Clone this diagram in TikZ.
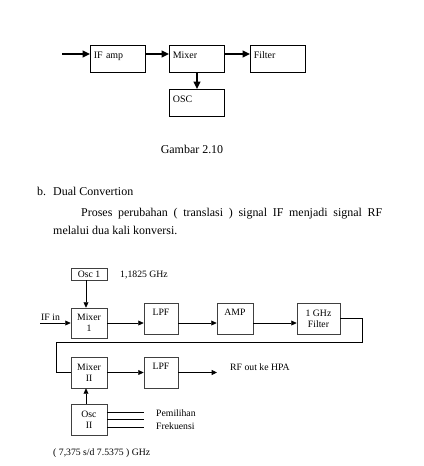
\documentclass[tikz,border=0pt]{standalone}
\usepackage{fontspec}
\setmainfont{Liberation Serif}
\usetikzlibrary{arrows.meta}
\newcommand{\bodyfont}{\fontsize{10.2}{12}\selectfont}
\newcommand{\blkfont}{\fontsize{8.3}{9.6}\selectfont}
\begin{document}
\begin{tikzpicture}[
  x=0.03cm, y=-0.03cm,
  blk/.style={draw,line width=0.8pt,minimum width=1.65cm,minimum height=0.81cm,
    text width=1.45cm,text height=0.3cm,text depth=0.33cm,inner sep=0.09cm,
    align=left,font=\fontsize{8.5}{10}\selectfont},
  sblk/.style={draw=black!75,line width=0.7pt,minimum height=0.93cm,
    inner sep=0.06cm,align=center,font=\blkfont},
  topt/.style={text height=0.3cm,text depth=0.51cm},
  txt/.style={inner sep=0pt,font=\bodyfont},
  stxt/.style={inner sep=0pt,font=\blkfont},
  bigarr/.style={line width=1.6pt,-{Triangle[length=2.2mm,width=2mm]}},
  arr/.style={line width=0.6pt,-{Triangle[length=1.6mm,width=1.5mm]}},
  wire/.style={line width=0.6pt}
]
  \useasboundingbox (0,0) rectangle (424,466);

  % single conversion
  \coordinate (in) at (62,54);
  \node[blk] (ifamp)  at (118,58.5) {IF amp};
  \node[blk] (mixer)  at (197,58.5) {Mixer};
  \node[blk] (filter) at (278,58.5) {Filter};
  \node[blk,minimum height=0.78cm] (osc) at (197,103) {OSC};

  \draw[bigarr] (in) -- (in -| ifamp.west);
  \draw[bigarr] (in -| ifamp.east) -- (in -| mixer.west);
  \draw[bigarr] (in -| mixer.east) -- (in -| filter.west);
  \draw[bigarr] (mixer.south) -- (osc.north);

  \node[txt] (cap) at (192,149) {Gambar 2.10};
  \node[txt,anchor=base west] (item) at (37,195) {b.};
  \node[txt,anchor=base west] (head) at (53,195) {Dual Convertion};
  \node[txt,anchor=base west] (par1) at (81,216)
    {\makebox[301\dimexpr0.03cm\relax][s]{Proses perubahan ( translasi ) signal IF menjadi signal RF}};
  \node[txt,anchor=base west] (par2) at (53,234) {melalui dua kali konversi.};

  % dual conversion
  \node[sblk,minimum width=1.08cm,minimum height=0.36cm,inner sep=0.02cm] (osc1) at (89,274) {Osc 1};
  \node[stxt,anchor=west] (f1) at (120,275) {1,1825 GHz};
  \node[sblk,minimum width=1.08cm,minimum height=0.9cm] (mix1) at (89,323) {Mixer\\1};
  \node[sblk,topt,minimum width=1.02cm] (lpf1) at (161,318.5) {LPF};
  \node[sblk,topt,minimum width=1.08cm] (amp) at (235,318.5) {AMP};
  \node[sblk,minimum width=1.29cm] (ghz) at (318.5,318.5) {1 GHz\\Filter};
  \node[sblk,minimum width=1.08cm] (mix2) at (89,372.5) {Mixer\\II};
  \node[sblk,topt,minimum width=1.02cm] (lpf2) at (161,372.5) {LPF};
  \node[sblk,minimum width=1.08cm] (osc2) at (89,419.5) {Osc\\II};

  \coordinate (ifin) at (40,323);
  \coordinate (c1) at (362,342);
  \coordinate (c2) at (56,342);
  \coordinate (out) at (217,372.5);
  \node[stxt,anchor=south west] (ifl) at (41,321) {IF in};
  \node[stxt,anchor=west] (rfout) at (230,367) {RF out ke HPA};
  \node[stxt,anchor=west] (pem) at (156,413) {Pemilihan};
  \node[stxt,anchor=west] (frek) at (156,426) {Frekuensi};
  \node[stxt,anchor=west] (rng) at (53,453) {( 7,375 s/d 7.5375 ) GHz};

  \draw[arr] ([xshift=-0.09cm]osc1.south) -- ([xshift=-0.09cm]mix1.north);
  \draw[arr] (ifin) -- (mix1.west);
  \draw[arr] (mix1.east) -- (mix1.east -| lpf1.west);
  \draw[arr] (mix1.east -| lpf1.east) -- (mix1.east -| amp.west);
  \draw[arr] (mix1.east -| amp.east) -- (mix1.east -| ghz.west);
  \draw[wire] (ghz.east) -| (c1) -- (c2) |- (mix2.west);
  \draw[arr] (mix2.east) -- (lpf2.west);
  \draw[arr] (lpf2.east) -- (out);
  \draw[arr] ([xshift=-0.09cm]osc2.north) -- ([xshift=-0.09cm]mix2.south);
  \foreach \dy in {-7.5,0,7.5}
    \draw[wire] (osc2.east) ++(0,\dy) -- ++(37,0);
\end{tikzpicture}
\end{document}
